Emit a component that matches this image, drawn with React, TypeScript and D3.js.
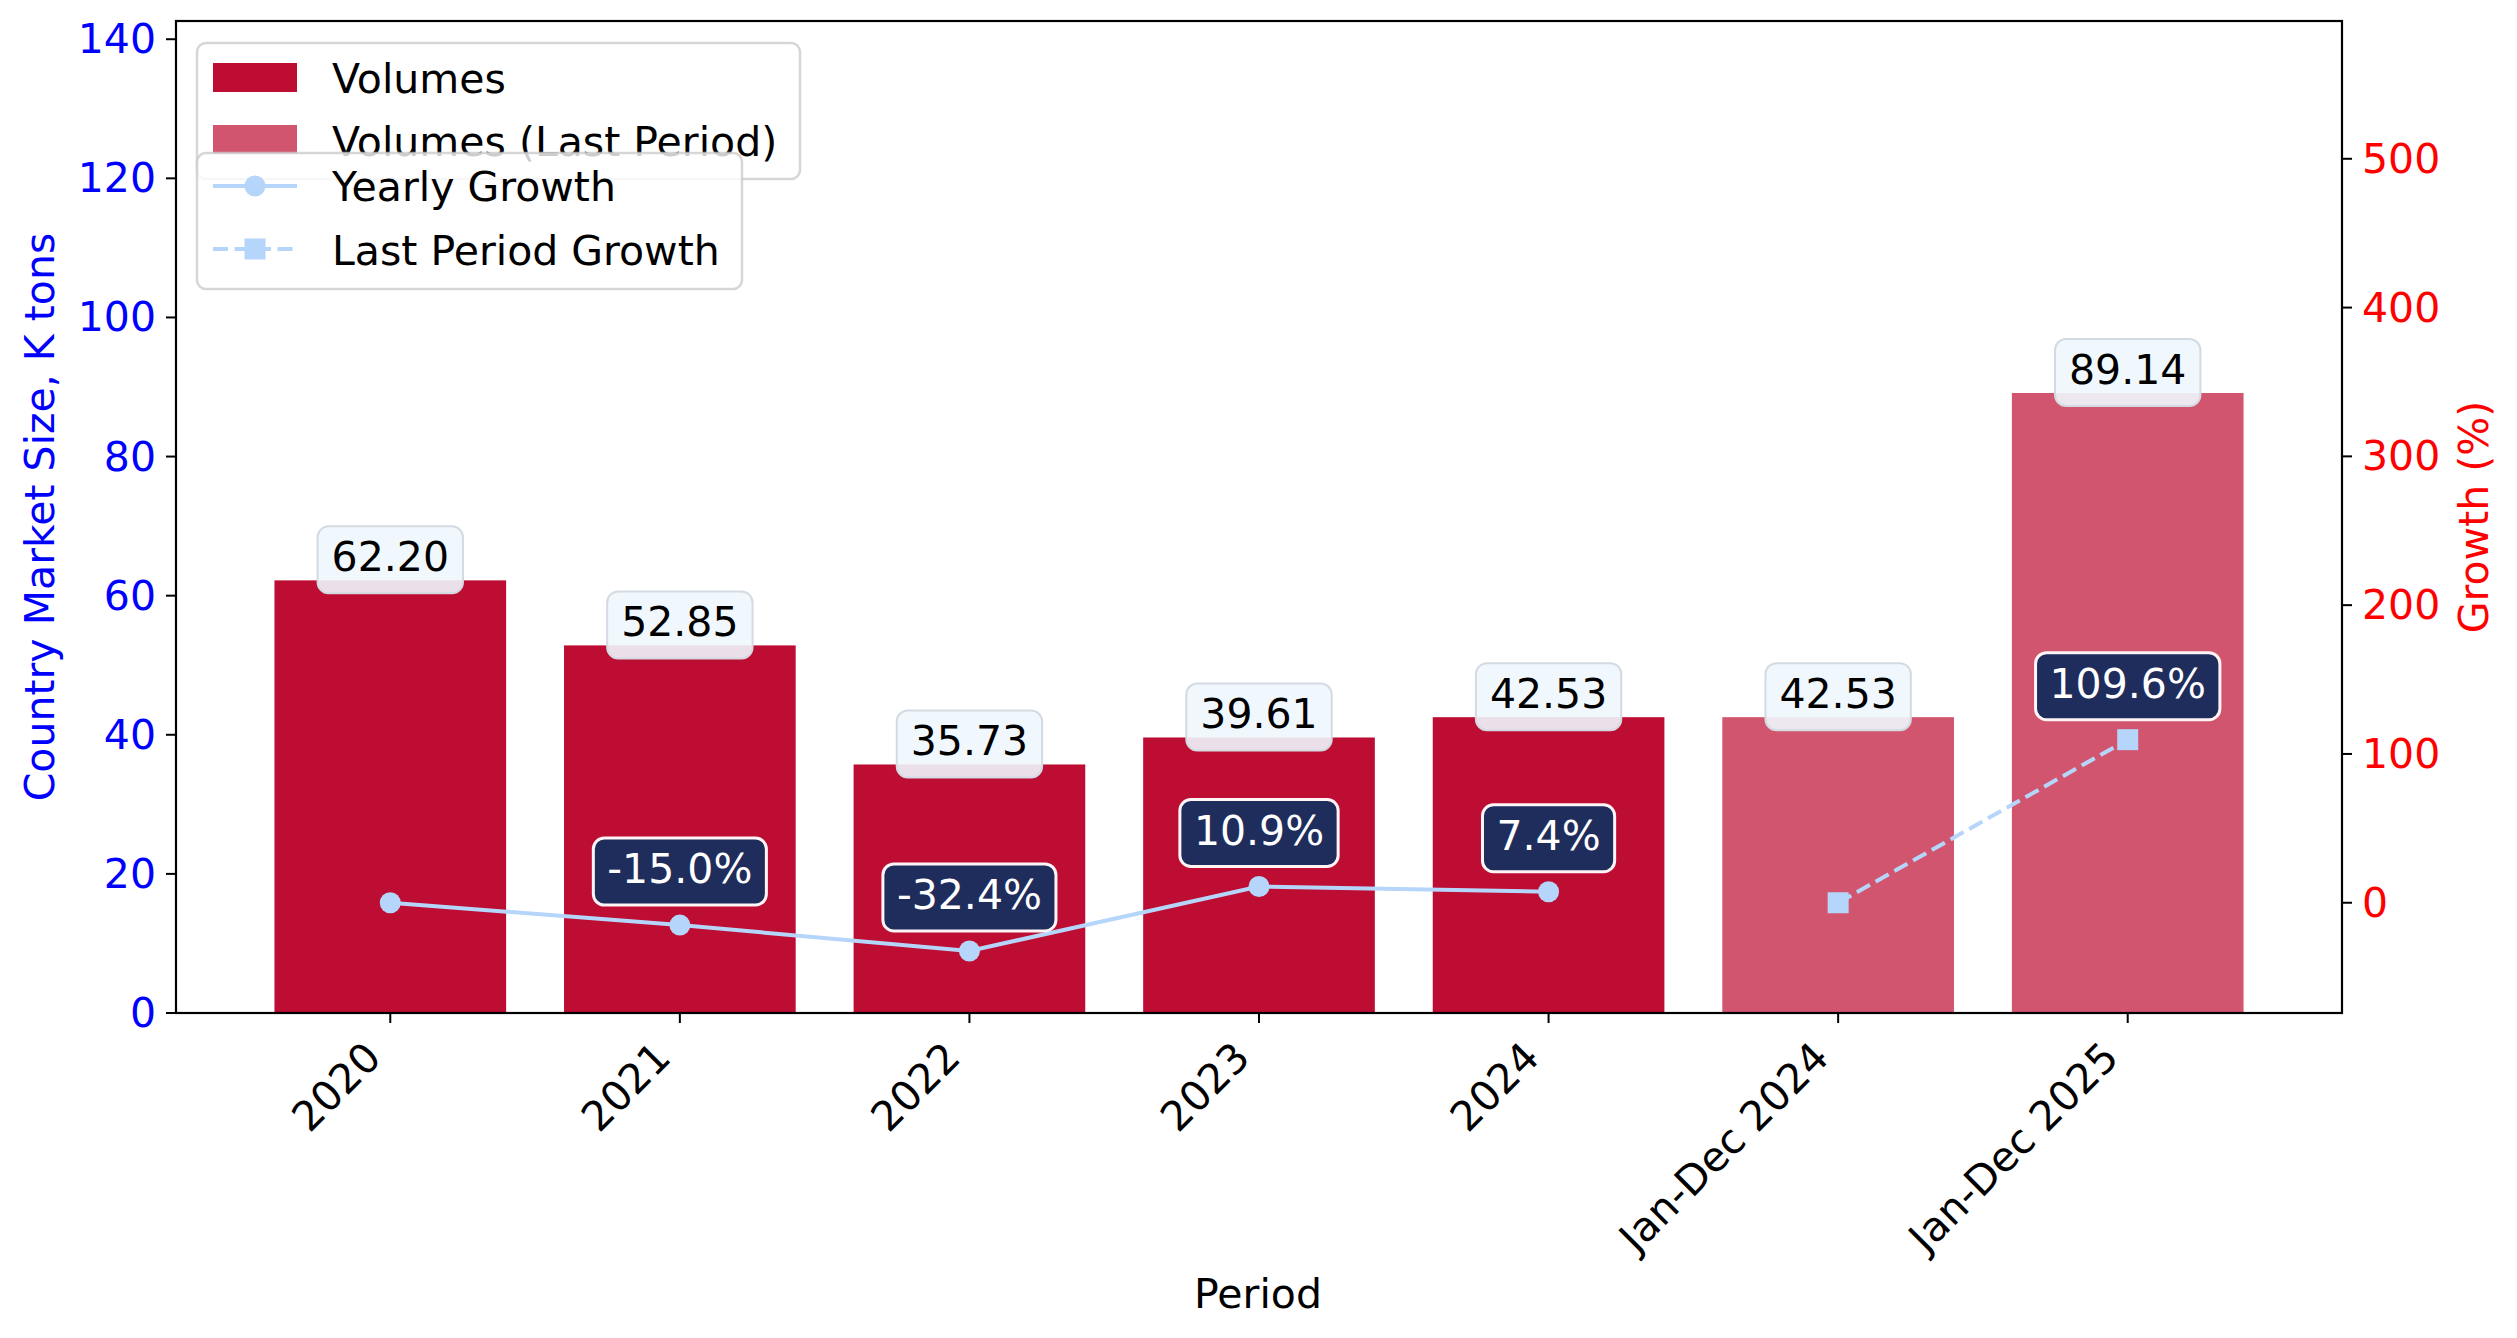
import React, { useEffect, useRef } from "react";
import * as d3 from "d3";

const categories = ["2020", "2021", "2022", "2023", "2024", "Jan-Dec 2024", "Jan-Dec 2025"];
const volumes = [62.2, 52.85, 35.73, 39.61, 42.53, 42.53, 89.14];
const isLastPeriod = [false, false, false, false, false, true, true];
const yearlyGrowthCats = ["2020", "2021", "2022", "2023", "2024"];
const yearlyGrowth = [0, -15.0, -32.4, 10.9, 7.4];
const lastGrowthCats = ["Jan-Dec 2024", "Jan-Dec 2025"];
const lastGrowth = [0, 109.6];
const leftTicks = [0, 20, 40, 60, 80, 100, 120, 140];
const rightTicks = [0, 100, 200, 300, 400, 500];

const W = 2517;
const H = 1338;
const FONT = "'DejaVu Sans', sans-serif";
const FS = 41;
const BAR = "#BD0D32";
const BAR_LAST = "#D1556F";
const LINE = "#B5D6FA";
const NAVY = "#1F2D5D";

export default function App() {
  const ref = useRef<SVGSVGElement>(null);

  useEffect(() => {
    document.body.style.margin = "0";
    const svg = d3.select(ref.current);
    svg.selectAll("*").remove();

    const L = 176, R = 2342, T = 21, B = 1013;
    const x = d3.scaleLinear().domain([-0.74, 6.74]).range([L, R]);
    const y = d3.scaleLinear().domain([0, 142.62]).range([B, T]);
    const y2 = d3.scaleLinear().domain([-74.1, 592.6]).range([B, T]);
    const idx = (c: string) => categories.indexOf(c);

    const g = svg.append("g");

    // bars
    g.selectAll("rect.bar")
      .data(volumes)
      .enter()
      .append("rect")
      .attr("x", (_d, i) => x(i - 0.4))
      .attr("width", x(0.8) - x(0))
      .attr("y", (d) => y(d))
      .attr("height", (d) => y(0) - y(d))
      .attr("fill", (_d, i) => (isLastPeriod[i] ? BAR_LAST : BAR));

    // frame
    g.append("rect")
      .attr("x", L).attr("y", T).attr("width", R - L).attr("height", B - T)
      .attr("fill", "none").attr("stroke", "#000").attr("stroke-width", 2.2);

    // left ticks
    leftTicks.forEach((t) => {
      g.append("line").attr("x1", L - 10).attr("x2", L).attr("y1", y(t)).attr("y2", y(t))
        .attr("stroke", "#000").attr("stroke-width", 2);
      g.append("text").attr("x", L - 20).attr("y", y(t)).attr("text-anchor", "end")
        .attr("dominant-baseline", "central").attr("fill", "#0000FF")
        .style("font-family", FONT).style("font-size", FS + "px").text(String(t));
    });
    // right ticks
    rightTicks.forEach((t) => {
      g.append("line").attr("x1", R).attr("x2", R + 10).attr("y1", y2(t)).attr("y2", y2(t))
        .attr("stroke", "#000").attr("stroke-width", 2);
      g.append("text").attr("x", R + 20).attr("y", y2(t)).attr("text-anchor", "start")
        .attr("dominant-baseline", "central").attr("fill", "#FF0000")
        .style("font-family", FONT).style("font-size", FS + "px").text(String(t));
    });
    // x ticks
    categories.forEach((c, i) => {
      const tx = x(i);
      g.append("line").attr("x1", tx).attr("x2", tx).attr("y1", B).attr("y2", B + 10)
        .attr("stroke", "#000").attr("stroke-width", 2);
      const px = tx - 17, py = B + 20 + 17;
      g.append("text").attr("x", px).attr("y", py).attr("text-anchor", "end")
        .attr("dominant-baseline", "central")
        .attr("transform", `rotate(-45 ${px} ${py})`)
        .style("font-family", FONT).style("font-size", FS + "px").attr("fill", "#000").text(c);
    });

    // axis labels
    g.append("text").attr("x", 1258).attr("y", 1294).attr("text-anchor", "middle")
      .attr("dominant-baseline", "central").style("font-family", FONT).style("font-size", FS + "px")
      .text("Period");
    g.append("text").attr("transform", `translate(40 ${(T + B) / 2}) rotate(-90)`)
      .attr("text-anchor", "middle").attr("dominant-baseline", "central").attr("fill", "#0000FF")
      .style("font-family", FONT).style("font-size", FS + "px").text("Country Market Size, K tons");
    g.append("text").attr("transform", `translate(2474 ${(T + B) / 2}) rotate(-90)`)
      .attr("text-anchor", "middle").attr("dominant-baseline", "central").attr("fill", "#FF0000")
      .style("font-family", FONT).style("font-size", FS + "px").text("Growth (%)");

    // growth lines
    const yearlyPts = yearlyGrowthCats.map((c, i) => [x(idx(c)), y2(yearlyGrowth[i])] as [number, number]);
    const lastPts = lastGrowthCats.map((c, i) => [x(idx(c)), y2(lastGrowth[i])] as [number, number]);
    const line = d3.line();
    g.append("path").attr("d", line(yearlyPts)).attr("fill", "none").attr("stroke", LINE).attr("stroke-width", 4);
    yearlyPts.forEach((p) => g.append("circle").attr("cx", p[0]).attr("cy", p[1]).attr("r", 10.5).attr("fill", LINE));
    g.append("path").attr("d", line(lastPts)).attr("fill", "none").attr("stroke", LINE).attr("stroke-width", 4)
      .attr("stroke-dasharray", "15 6.5");
    lastPts.forEach((p) => g.append("rect").attr("x", p[0] - 10.5).attr("y", p[1] - 10.5).attr("width", 21).attr("height", 21).attr("fill", LINE));

    // label helper
    const label = (cx: number, baseline: number, txt: string, fill: string, stroke: string, sw: number, color: string, op: number) => {
      const lg = g.append("g");
      const rect = lg.append("rect");
      const t = lg.append("text").attr("x", cx).attr("y", baseline).attr("text-anchor", "middle")
        .style("font-family", FONT).style("font-size", FS + "px").attr("fill", color).text(txt);
      const w = (t.node() as SVGTextElement).getComputedTextLength();
      rect.attr("x", cx - w / 2 - 14).attr("y", baseline - 45).attr("width", w + 28).attr("height", 67)
        .attr("rx", 11).attr("ry", 11).attr("fill", fill).attr("fill-opacity", op)
        .attr("stroke", stroke).attr("stroke-width", sw);
    };

    // value labels
    volumes.forEach((v, i) => {
      label(x(i), y(v) - 9, v.toFixed(2), "#F0F7FD", "#D3DAE2", 2, "#000", 0.9);
    });
    // growth labels
    yearlyGrowthCats.forEach((c, i) => {
      if (i === 0) return;
      const p = yearlyPts[i];
      label(p[0], p[1] - 42, `${yearlyGrowth[i].toFixed(1)}%`, NAVY, "#FFF4F6", 3, "#FFF", 1);
    });
    lastGrowthCats.forEach((c, i) => {
      if (i === 0) return;
      const p = lastPts[i];
      label(p[0], p[1] - 42, `${lastGrowth[i].toFixed(1)}%`, NAVY, "#FFF4F6", 3, "#FFF", 1);
    });

    // legends
    const legendFrame = (x0: number, y0: number, x1: number, y1: number) =>
      g.append("rect").attr("x", x0).attr("y", y0).attr("width", x1 - x0).attr("height", y1 - y0)
        .attr("rx", 9).attr("ry", 9).attr("fill", "#fff").attr("fill-opacity", 0.8)
        .attr("stroke", "#CCCCCC").attr("stroke-opacity", 0.8).attr("stroke-width", 2.5);
    const legText = (yc: number, txt: string) =>
      g.append("text").attr("x", 332).attr("y", yc + 15.5).style("font-family", FONT)
        .style("font-size", FS + "px").attr("fill", "#000").text(txt);

    legendFrame(197, 43, 800, 179);
    g.append("rect").attr("x", 213).attr("y", 63).attr("width", 84).attr("height", 29).attr("fill", BAR);
    legText(77.5, "Volumes");
    g.append("rect").attr("x", 213).attr("y", 125).attr("width", 84).attr("height", 29).attr("fill", BAR_LAST);
    legText(140, "Volumes (Last Period)");

    legendFrame(197, 153, 742, 289);
    g.append("line").attr("x1", 213).attr("x2", 297).attr("y1", 186).attr("y2", 186).attr("stroke", LINE).attr("stroke-width", 4);
    g.append("circle").attr("cx", 255).attr("cy", 186).attr("r", 10.5).attr("fill", LINE);
    legText(185, "Yearly Growth");
    g.append("line").attr("x1", 213).attr("x2", 297).attr("y1", 249).attr("y2", 249).attr("stroke", LINE).attr("stroke-width", 4)
      .attr("stroke-dasharray", "15 6.5");
    g.append("rect").attr("x", 244.5).attr("y", 238.5).attr("width", 21).attr("height", 21).attr("fill", LINE);
    legText(249, "Last Period Growth");
  }, []);

  return <svg ref={ref} width={W} height={H} style={{ display: "block", background: "#fff" }} />;
}
